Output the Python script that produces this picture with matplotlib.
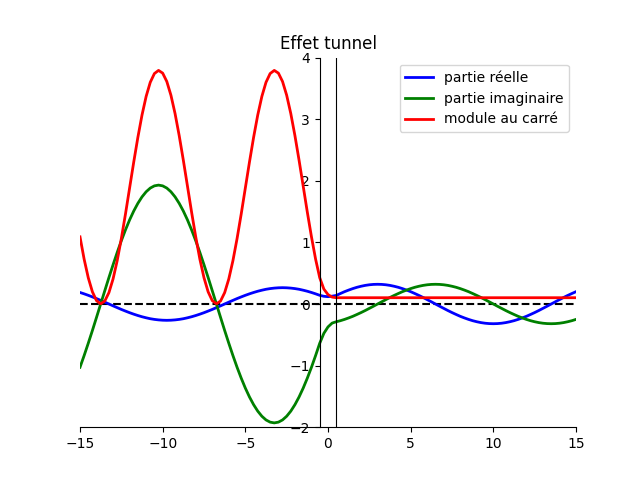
import numpy as np
import matplotlib
matplotlib.use("Agg")
import matplotlib.pyplot as plt

x = np.linspace(-15, 15, 121)

partie_reelle = [
    0.187, 0.165, 0.141, 0.115, 0.088, 0.059, 0.030, 0.000, -0.030, -0.059,
    -0.088, -0.115, -0.141, -0.165, -0.187, -0.207, -0.224, -0.239, -0.250, -0.258,
    -0.263, -0.265, -0.263, -0.258, -0.250, -0.239, -0.224, -0.207, -0.187, -0.165,
    -0.141, -0.115, -0.088, -0.059, -0.030, 0.000, 0.030, 0.059, 0.088, 0.115,
    0.141, 0.165, 0.187, 0.207, 0.224, 0.239, 0.250, 0.258, 0.263, 0.265,
    0.263, 0.258, 0.250, 0.239, 0.224, 0.207, 0.187, 0.165, 0.141,
    0.125, 0.119, 0.127,
    0.139, 0.170, 0.200, 0.226, 0.250, 0.271, 0.288, 0.302, 0.312, 0.318,
    0.320, 0.318, 0.312, 0.302, 0.288, 0.271, 0.250, 0.226, 0.200, 0.170,
    0.139, 0.106, 0.071, 0.036, 0.000, -0.036, -0.071, -0.106, -0.139, -0.170,
    -0.200, -0.226, -0.250, -0.271, -0.288, -0.302, -0.312, -0.318, -0.320, -0.318,
    -0.312, -0.302, -0.288, -0.271, -0.250, -0.226, -0.200, -0.170, -0.139, -0.106,
    -0.071, -0.036, 0.000, 0.036, 0.071, 0.106, 0.139, 0.170, 0.200,
]

partie_imaginaire = [
    -1.027, -0.837, -0.637, -0.430, -0.216, 0.000, 0.216, 0.430, 0.637, 0.837,
    1.027, 1.203, 1.365, 1.509, 1.634, 1.739, 1.822, 1.882, 1.918, 1.930,
    1.918, 1.882, 1.822, 1.739, 1.634, 1.509, 1.365, 1.203, 1.027, 0.837,
    0.637, 0.430, 0.216, 0.000, -0.216, -0.430, -0.637, -0.837, -1.027, -1.203,
    -1.365, -1.509, -1.634, -1.739, -1.822, -1.882, -1.918, -1.930, -1.918, -1.882,
    -1.822, -1.739, -1.634, -1.509, -1.365, -1.203, -1.027, -0.837, -0.637,
    -0.476, -0.372, -0.310,
    -0.288, -0.271, -0.250, -0.226, -0.200, -0.170, -0.139, -0.106, -0.071, -0.036,
    0.000, 0.036, 0.071, 0.106, 0.139, 0.170, 0.200, 0.226, 0.250, 0.271,
    0.288, 0.302, 0.312, 0.318, 0.320, 0.318, 0.312, 0.302, 0.288, 0.271,
    0.250, 0.226, 0.200, 0.170, 0.139, 0.106, 0.071, 0.036, 0.000, -0.036,
    -0.071, -0.106, -0.139, -0.170, -0.200, -0.226, -0.250, -0.271, -0.288, -0.302,
    -0.312, -0.318, -0.320, -0.318, -0.312, -0.302, -0.288, -0.271, -0.250,
]

module_carre = [
    1.090, 0.728, 0.426, 0.198, 0.054, 0.003, 0.048, 0.185, 0.407, 0.704,
    1.062, 1.460, 1.883, 2.304, 2.705, 3.067, 3.370, 3.599, 3.741, 3.792,
    3.748, 3.612, 3.389, 3.091, 2.733, 2.334, 1.913, 1.490, 1.090, 0.728,
    0.426, 0.198, 0.054, 0.003, 0.048, 0.185, 0.407, 0.704, 1.062, 1.460,
    1.883, 2.304, 2.705, 3.067, 3.370, 3.599, 3.741, 3.792, 3.748, 3.612,
    3.389, 3.091, 2.733, 2.334, 1.913, 1.490, 1.090, 0.728, 0.426,
    0.242, 0.153, 0.112,
    0.102, 0.102, 0.102, 0.102, 0.102, 0.102, 0.102, 0.102, 0.102, 0.102,
    0.102, 0.102, 0.102, 0.102, 0.102, 0.102, 0.102, 0.102, 0.102, 0.102,
    0.102, 0.102, 0.102, 0.102, 0.102, 0.102, 0.102, 0.102, 0.102, 0.102,
    0.102, 0.102, 0.102, 0.102, 0.102, 0.102, 0.102, 0.102, 0.102, 0.102,
    0.102, 0.102, 0.102, 0.102, 0.102, 0.102, 0.102, 0.102, 0.102, 0.102,
    0.102, 0.102, 0.102, 0.102, 0.102, 0.102, 0.102, 0.102, 0.102,
]

barriere_gauche = -0.5
barriere_droite = 0.5

fig, ax = plt.subplots(figsize=(6.4, 4.8), dpi=100)
ax.axhline(0, color="k", ls="--", lw=1.5)
ax.plot(x, partie_reelle, color="b", lw=2, label="partie réelle")
ax.plot(x, partie_imaginaire, color="g", lw=2, label="partie imaginaire")
ax.plot(x, module_carre, color="r", lw=2, label="module au carré")
ax.axvline(barriere_droite, color="k", lw=0.8)

ax.set_xlim(-15, 15)
ax.set_ylim(-2, 4)
ax.spines["left"].set_position(("data", barriere_gauche))
ax.spines["right"].set_visible(False)
ax.spines["top"].set_visible(False)
ax.set_title("Effet tunnel")
ax.legend(loc="upper right")

fig.savefig("out.png", dpi=100)
